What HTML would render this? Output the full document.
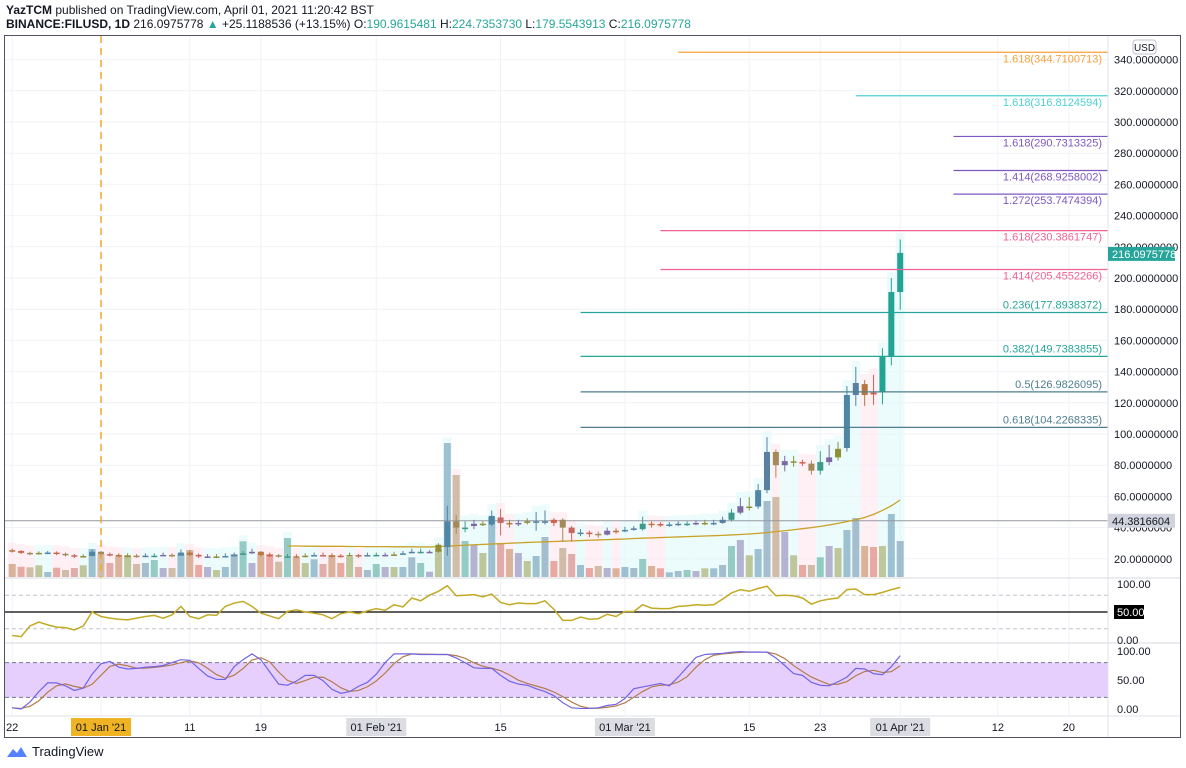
<!DOCTYPE html>
<html><head><meta charset="utf-8"><style>
body{margin:0;background:#fff;width:1186px;height:768px;overflow:hidden;font-family:"Liberation Sans",sans-serif;}
#hdr1{position:absolute;left:6px;top:3px;font-size:12px;color:#131722;}
#hdr2{position:absolute;left:6px;top:17px;font-size:12px;color:#131722;}
.g{color:#26a69a}
svg{position:absolute;left:0;top:0}
#logo{position:absolute;left:6px;top:744px;font-size:13px;color:#131722;display:flex;align-items:center;gap:4px}
</style></head><body>
<div id="hdr1"><b>YazTCM</b> published on TradingView.com, April 01, 2021 11:20:42 BST</div>
<div id="hdr2"><b>BINANCE:FILUSD, 1D</b> 216.0975778 <span class="g">▲</span> +25.1188536 (+13.15%) O:<span class="g">190.9615481</span> H:<span class="g">224.7353730</span> L:<span class="g">179.5543913</span> C:<span class="g">216.0975778</span></div>
<svg id="chart" width="1186" height="768"></svg>
<div id="logo"><svg width="22" height="14" style="position:static"><path d="M1 12 L7 4 L11 8 L15 2 L21 12 Z" fill="#2962ff" opacity="0.8"/></svg><span>TradingView</span></div>
<script>
const closes=[25,23.8,23.2,23.8,24,23.2,22.3,21.5,21.8,24.5,23,22.5,22,22,21.6,22,22,22.5,22,24,22.5,21.5,21.5,21.5,21.8,22.5,23.5,24.5,22.5,22.3,21.6,21.6,21.5,22,22.4,22.2,22,21.6,22.4,21.6,22.4,22.5,22.5,22.8,23.5,24.5,24.5,24.5,29,44,40,40,42.5,42.5,47.5,43,42.5,43,44,44,44,43,40,36.5,36.8,36,35.5,38,37.8,38.5,39.5,42.5,42.3,42,42,42.5,42.5,43,43,43,45,49.6,53.7,53.5,64,88.5,80,82.6,82.5,81.5,76.5,82,85,90.5,125,132.7,125,125.3,150,191,216.1];
const opens=[25.5,25,23.8,23.2,23.8,24,23.2,22.3,21.5,21.8,24.5,23,22.5,22,22,21.6,22,22,22.5,22,24,22.5,21.5,21.5,21.5,21.8,22.5,23.5,24.5,22.5,22.3,21.6,21.6,21.5,22,22.4,22.2,22,21.6,22.4,21.6,22.4,22.5,22.5,22.8,23.5,24.5,24.5,24.5,27.5,44,40,41,42.5,42,46.5,43,42.5,43,44,44,45,45,40,36.5,36.8,36,35.5,38,37.8,38.5,39,42.5,42.3,42,42,42.5,42.5,43,43,43,45,49.6,53.5,53.5,64,88.5,80,82.5,82,81,76.5,82,85,91,125,132,126.5,127,150,191];
const highs=[26.5,25.5,24.5,24.8,25,24.8,24,23,23,26,25,24,23.5,23.5,23,23.5,23.5,24,23.5,26,25.5,23.5,23,23,23.5,24,25,26.5,25,24,23,23,23,23.5,24,24,23.5,23,24,23,24,24,24,24.5,25,26.5,26.5,25.5,30,54,48,44,45,44,51,52,45,45,46,50,51,46,46,41,39,38,37.5,40,39.5,40.5,41,47,44,43.5,43.5,44,44,44.5,45,45,47,52,59,59.5,68,98,90,86,86,83.5,83,89,93,95,130.7,143,134.6,138,155,200,224.7];
const lows=[24,23,22.3,22.7,23,22.3,21.5,20.5,20.7,21.5,22,21.5,21,21,20.7,21,21,21.5,21,22,21.5,20.5,20.5,20.5,20.8,21.5,22.5,23,21.5,21.3,20.7,20.7,20.5,21,21.5,21.3,21,20.7,21.5,20.7,21.5,21.5,21.5,21.8,22.5,23.5,23.5,23.5,24,22,36,37,39,41,41,35,40,41,42,38,42,41,31,31,34.5,34,33.5,35,36,37,38,38,40,40.5,40.5,41,41,41.5,41.5,41.5,42.5,44,48.5,51,52,62,72,76,79,79.5,74,74,80,83,88.7,118,118,118.7,119,144,179.6];
const volumes=[13,10.3,9.7,11.7,5,9.3,7,9,11.7,28,23,14,21,22,13,14,17,9,9,23,27,12,10,7,10,23,35.7,14,23,23,15.3,39,19,14,17.7,13,22,14,20,10,7,13,10,10,10,19.7,14,5.3,28,134,102,36,32,24,60,34,28,24,16,21,40,16,29,23,12,9,11,9,8.7,10,9,18,11,8.7,4.7,6,7,6,8.7,8.7,12,31,37,21.7,28,76,80,45,21.7,12,12,19.7,31,29,47,59,31,30,31,63,36];
const rsi=[8,6,25,32,27,23,22,18,25,50,42,39,37,36,39,42,44,39,45,60,42,38,45,44,60,66,69,60,48,43,38,51,54,50,48,45,38,47,50,47,52,56,53,63,59,75,70,80,87,97,79,80,81,77,82,67,63,66,65,65,70,55,35,35,41,37,38,46,42,51,51,63,57,56,56,60,61,63,62,63,73,84,90,87,92,96,79,80,79,75,64,70,73,75,90,91,81,81,85,90,94];
const stochK=[2,0,12,30,45,45,40,32,36,60,78,82,72,69,70,72,73,75,80,85,84,70,57,51,51,73,85,95,85,64,43,41,48,58,58,49,34,27,30,39,46,60,80,95,95,95,94,94,94,94,88,80,71,70,70,58,48,43,41,35,30,23,11,2,1,1,2,6,8,18,35,38,41,44,40,55,72,89,94,95,96,98,99,98,98,98,88,75,61,58,46,41,40,47,55,70,69,61,59,73,92];
const maValues=[28.2,28.2,28.1,28.1,28.0,28.0,28.0,27.9,27.9,27.8,27.8,27.8,27.7,27.7,27.7,27.6,27.6,27.8,28.1,28.4,28.7,29.0,29.2,29.5,29.7,30.0,30.2,30.5,30.7,30.9,31.1,31.3,31.5,31.7,31.9,32.1,32.3,32.5,32.7,33.0,33.2,33.4,33.6,33.8,34.0,34.2,34.4,34.6,34.8,35.0,35.3,35.6,35.9,36.3,36.8,37.4,38.0,38.6,39.3,40.0,40.8,41.7,42.7,43.8,45.0,46.5,48.5,51,54,57.7];
const priceTicks=[20,40,60,80,100,120,140,160,180,200,220,240,260,280,300,320,340];
const fibValues=[344.7100713,316.8124594,290.7313325,268.9258002,253.7474394,230.3861747,205.4552266,177.8938372,149.7383855,126.9826095,104.2268335];
const fibRatios=['1.618','1.618','1.618','1.414','1.272','1.618','1.414','0.236','0.382','0.5','0.618'];
const fibStartDay=[65,85,96,96,96,63,63,54,54,54,54];
const timeLabels=['22','01 Jan \'21','11','19','01 Feb \'21','15','01 Mar \'21','15','23','01 Apr \'21','12','20'];
const timeLabelDays=[-10,0,10,18,31,45,59,73,81,90,101,109];
const firstDay=-10, lastPrice=216.0975778, refLine=44.3816604, maStartDay=21;

const NS='http://www.w3.org/2000/svg';
const svg=document.getElementById('chart');
function mk(tag,attrs,parent){const e=document.createElementNS(NS,tag);for(const k in attrs)e.setAttribute(k,attrs[k]);(parent||svg).appendChild(e);return e;}
const X=d=>101+8.88*d;
const Y=p=>590-1.56*p;
const VY=v=>577-v;
const RY=v=>640-0.56*v;
const SY=v=>709-0.58*v;
const L=5,R=1108;

// grid
for(const p of priceTicks){const g=mk('line',{x1:L,x2:R,y1:Y(p),y2:Y(p),stroke:'#f0f2f6'});

}
timeLabelDays.forEach(d=>{const g=mk('line',{x1:X(d),x2:X(d),y1:36,y2:716,stroke:'#f0f2f6'});

});
// stoch band
const band=mk('rect',{x:L,y:SY(80),width:R-L,height:SY(20)-SY(80),fill:'#e6cffc'});


[80,20].forEach(v=>{const l=mk('line',{x1:L,x2:R,y1:SY(v),y2:SY(v),stroke:'#787b86','stroke-dasharray':'4 3'});

});
[80,20].forEach(v=>{const l=mk('line',{x1:L,x2:R,y1:RY(v),y2:RY(v),stroke:'#c0c3cc','stroke-dasharray':'4 3'});

});
const mid=mk('line',{x1:L,x2:R,y1:RY(50),y2:RY(50),stroke:'#000','stroke-width':1.2});



const upCols=['#5b7fa0','#3d9a8c','#7b6aa6','#8f8f3a','#4f86a6'];
const dnCols=['#b5763f','#d0614d','#a48a5a','#c46a62'];
// backgrounds + volume
closes.forEach((c,i)=>{const d=firstDay+i,x=X(d),up=c>=opens[i];
const top=Math.min(Y(highs[i]),VY(volumes[i]))-6;
const bg=mk('rect',{x:x-4.4,y:top,width:8.88,height:577-top,fill:up?'#dffafa':'#fde6ef',opacity:0.6});


const col=up?upCols[i%upCols.length]:dnCols[i%dnCols.length];
const v=mk('rect',{x:x-3.5,y:VY(volumes[i]),width:7,height:volumes[i],fill:col,opacity:0.5});

});
// ref line
const rl=mk('line',{x1:L,x2:R,y1:Y(refLine),y2:Y(refLine),stroke:'#9598a1'});


// orange dashed
const od=mk('line',{x1:X(0),x2:X(0),y1:36,y2:578,stroke:'#f0a820','stroke-width':1.5,'stroke-dasharray':'7 5'});


// MA
let pts=maValues.map((v,i)=>X(maStartDay+i)+','+Y(v)).join(' ');
const ma=mk('polyline',{points:pts,fill:'none',stroke:'#c9a227','stroke-width':1.3});


// candles
closes.forEach((c,i)=>{const d=firstDay+i,x=X(d),o=opens[i],up=c>=o;
let col=up?upCols[i%upCols.length]:dnCols[i%dnCols.length];
if(i>=closes.length-3)col='#22a393';
const w=mk('line',{x1:x,x2:x,y1:Y(highs[i]),y2:Y(lows[i]),stroke:col,'stroke-width':1});


const t=Math.min(Y(o),Y(c)),h=Math.max(1.5,Math.abs(Y(o)-Y(c)));
const b=mk('rect',{x:x-3,y:t,width:6,height:h,fill:col});

});
// fibs
const fibCols=['#f7a13a','#4dd0d8','#7e57c2','#7e57c2','#7e57c2','#f06292','#f06292','#26a69a','#26a69a','#4f7f8f','#4f7f8f'];
fibValues.forEach((v,i)=>{const y=Y(v);
const l=mk('line',{x1:X(fibStartDay[i]),x2:R,y1:y,y2:y,stroke:fibCols[i],'stroke-width':1.2});


const t=mk('text',{x:1102,y:i<7?y+10:y-4,'text-anchor':'end','font-size':11,fill:fibCols[i]});
t.textContent=fibRatios[i]+'('+v.toFixed(7)+')';

});
// RSI
pts=rsi.map((v,i)=>X(firstDay+i)+','+RY(v)).join(' ');
const rl2=mk('polyline',{points:pts,fill:'none',stroke:'#c4a923','stroke-width':1.5});


// stoch
const stochD=stochK.map((v,i)=>{const a=stochK.slice(Math.max(0,i-2),i+1);return a.reduce((s,x)=>s+x,0)/a.length;});
pts=stochD.map((v,i)=>X(firstDay+i)+','+SY(v)).join(' ');
const sd=mk('polyline',{points:pts,fill:'none',stroke:'#b57b4b','stroke-width':1.2});


pts=stochK.map((v,i)=>X(firstDay+i)+','+SY(v)).join(' ');
const sk=mk('polyline',{points:pts,fill:'none',stroke:'#7165e3','stroke-width':1.2});


// cover left overflow
const cov=mk('rect',{x:0,y:30,width:L,height:720,fill:'#fff'});


// pane separators
[578,643].forEach(y=>{const s=mk('line',{x1:L,x2:1181,y1:y,y2:y,stroke:'#d5d8e0'});

});
const ta=mk('line',{x1:L,x2:1181,y1:716,y2:716,stroke:'#e0e3eb'});


const pa=mk('line',{x1:R,x2:R,y1:36,y2:738,stroke:'#e0e3eb'});


// price labels
priceTicks.forEach(p=>{const t=mk('text',{x:1114,y:Y(p)+4,'font-size':11,fill:'#131722'});
t.textContent=p.toFixed(7);

});
const usd=mk('rect',{x:1133,y:40,width:23,height:14,rx:3,fill:'#fff',stroke:'#c0c3cc'});


const ut=mk('text',{x:1144.5,y:51,'font-size':10,'text-anchor':'middle',fill:'#131722'});ut.textContent='USD';


function tag(y,txt,bg,fg,name){const r=mk('rect',{x:1108,y:y-7,width:67,height:14,fill:bg});


const t=mk('text',{x:1112,y:y+4,'font-size':11,fill:fg});t.textContent=txt;

}
tag(Y(lastPrice)+1,lastPrice.toFixed(7),'#26a69a','#fff','last-price-tag');
tag(Y(refLine),refLine.toFixed(7),'#d1d4dc','#131722','reference-price-tag');
// rsi axis
[[RY(100),'100.00'],[RY(0),'0.00'],[SY(100),'100.00'],[SY(50),'50.00'],[SY(0),'0.00']].forEach(a=>{const t=mk('text',{x:1117,y:a[0]+4,'font-size':11,fill:'#131722'});t.textContent=a[1];

});
const bb=mk('rect',{x:1114,y:RY(50)-7,width:30,height:14,fill:'#000'});


const bt=mk('text',{x:1117,y:RY(50)+4,'font-size':11,fill:'#fff'});bt.textContent='50.00';


// time labels
timeLabels.forEach((s,i)=>{const x=X(timeLabelDays[i]);const box=s.length>3;
if(box){const r=mk('rect',{x:x-30,y:718,width:60,height:18,fill:i===1?'#f0b323':'#dcdde2'});

}
const t=mk('text',{x:x,y:731,'font-size':11,'text-anchor':'middle',fill:'#131722'});t.textContent=s;

});
// frame
const fr=mk('rect',{x:4.5,y:35.5,width:1176,height:702,fill:'none',stroke:'#50535e'});


</script>
</body></html>
